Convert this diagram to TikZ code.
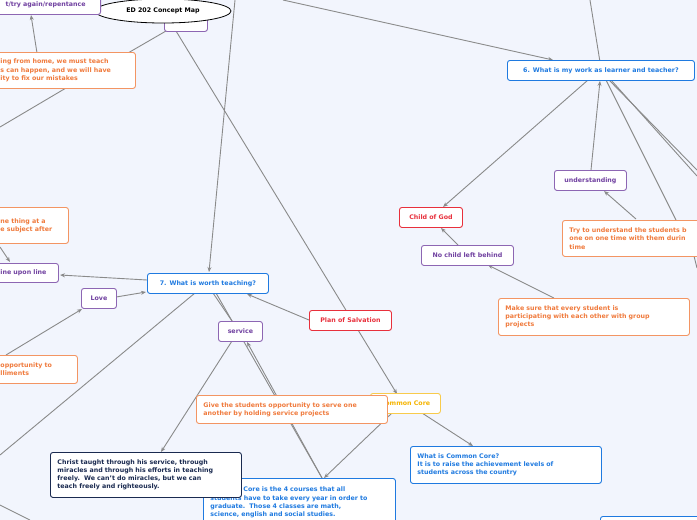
\documentclass[tikz,border=0pt]{standalone}
\usepackage{fontspec}
\setmainfont{DejaVu Sans}
\usetikzlibrary{shapes.geometric,arrows.meta}
\definecolor{bg}{HTML}{F2F5FD}
\definecolor{cpur}{HTML}{7040A0}
\definecolor{cblu}{HTML}{1F7AE0}
\definecolor{cred}{HTML}{E8303C}
\definecolor{cora}{HTML}{F07A3C}
\definecolor{cyel}{HTML}{F5B400}
\definecolor{cnav}{HTML}{1A2A50}
\definecolor{cline}{HTML}{8A8A8A}
\tikzset{
 box/.style={draw,fill=white,rounded corners=2.5pt,line width=0.9pt,inner xsep=7pt,inner ysep=2pt,font=\fontsize{6.3}{8.2}\selectfont\bfseries,align=left,anchor=north west},
 pur/.style={box,draw=cpur!80,text=cpur},
 blu/.style={box,draw=cblu,text=cblu},
 red/.style={box,draw=cred,text=cred},
 ora/.style={box,draw=cora!80,text=cora},
 yel/.style={box,draw=cyel!70,text=cyel},
 nav/.style={box,draw=cnav,text=cnav},
 ln/.style={draw=cline,line width=0.9pt},
 ar/.style={ln,-{Stealth[length=5pt,width=4pt]}}
}
\begin{document}
\begin{tikzpicture}[x=1pt,y=-1pt]
\fill[bg] (0,0) rectangle (697,520);
\useasboundingbox (0,0) rectangle (697,520);
\clip (0,0) rectangle (697,520);
% coordinates for free ends
\coordinate (t1) at (283,0); \coordinate (t2) at (590,0); \coordinate (t3) at (235,0);
\coordinate (l1) at (0,127); \coordinate (l2) at (0,455); \coordinate (l3) at (0,505); \coordinate (l4) at (30,520);
\coordinate (r1) at (697,170); \coordinate (r2) at (697,176); \coordinate (r3) at (697,268);
% edges behind
\draw[ar] (t1) -- (553,60);
\draw[ln] (t2) -- (600,62);
\draw[ar] (t3) -- (209,272);
\draw[ar] (176,31) -- (397,394);
\draw[ln] (166,31) -- (128,53);
\draw[ar] (37,53) -- (31,15);
\draw[ln] (66,88) -- (l1);
\draw[ar] (0,247) -- (10,262);
\draw[ar] (147,280) -- (60,275);
\draw[ar] (116,297) -- (146,292);
\draw[ar] (6,355) -- (82,309);
\draw[ln] (195,293) -- (l2);
\draw[ln] (l3) -- (l4);
\draw[ln] (213,293) -- (232,321);
\draw[ln] (216,293) -- (322,478);
\draw[ar] (322,478) -- (247,342);
\draw[ar] (232,341) -- (161,452);
\draw[ar] (309,320) -- (247,294);
\draw[ar] (392,413) -- (324,478);
\draw[ar] (422,413) -- (473,446);
\draw[ar] (588,80) -- (443,207);
\draw[ar] (591,170) -- (600,81);
\draw[ar] (636,219) -- (604,191);
\draw[ln] (606,80) -- (676,220);
\draw[ln] (609,80) -- (r1);
\draw[ln] (611,80) -- (r2);
\draw[ln] (694,256) -- (r3);
\draw[ar] (458,245) -- (441,228);
\draw[ar] (554,298) -- (488,265);
% nodes
\node[pur,minimum width=43,minimum height=21] (hid) at (164,10) {};
\node[draw,fill=white,ellipse,line width=0.8pt,minimum width=136,minimum height=24,font=\fontsize{6.3}{7}\selectfont\bfseries] (root) at (163,11) {ED 202 Concept Map};
\node[pur,minimum width=110,minimum height=19,anchor=north east,align=right] (rep) at (101,-5) {t/try again/repentance};
\node[ora,minimum height=36,text width=143,inner xsep=1pt] (o1) at (-10,52) {\hspace*{9pt}ing from home, we must teach\\ \hspace*{9pt}s can happen, and we will have\\ \hspace*{9pt}ity to fix our mistakes};
\node[ora,minimum height=36,text width=76,inner xsep=1pt] (o2) at (-10,207) {\hspace*{9pt}ne thing at a\\ \hspace*{9pt}e subject after};
\node[pur,minimum height=19,inner xsep=1pt,text width=66] (line) at (-10,263) {\hspace*{9pt}ine upon line};
\node[blu,minimum height=20,minimum width=121,align=center] (q7) at (147,273) {7. What is worth teaching?};
\node[pur,minimum height=20,minimum width=35,align=center] (love) at (81,288) {Love};
\node[ora,minimum height=28,text width=85,inner xsep=1pt] (o3) at (-10,355) {\hspace*{9pt}opportunity to\\ \hspace*{9pt}lliments};
\node[pur,minimum height=20,minimum width=44,align=center] (serv) at (218,321) {service};
\node[red,minimum height=20,minimum width=82,align=center] (plan) at (309,310) {Plan of Salvation};
\node[yel,minimum height=20,minimum width=70] (cc) at (370,393) {Common Core};
\node[ora,minimum height=28,text width=177] (give) at (196,395) {Give the students opportunity to serve one\\another by holding service projects};
\node[blu,text width=178,minimum height=48] (ccd) at (203,478) {Common Core is the 4 courses that all\\students have to take every year in order to\\graduate.\ \ Those 4 classes are math,\\science, english and social studies.};
\node[nav,text width=177,minimum height=45] (christ) at (50,452) {Christ taught through his service, through\\miracles and through his efforts in teaching\\freely.\ \ We can't do miracles, but we can\\teach freely and righteously.};
\node[blu,text width=177,minimum height=37] (wcc) at (410,446) {What is Common Core?\\It is to raise the achievement levels of\\students across the country};
\node[blu,minimum width=110,minimum height=20] (br) at (600,516) {};
\node[blu,minimum width=187,minimum height=20,align=center] (q6) at (507,60) {6. What is my work as learner and teacher?};
\node[pur,minimum height=20,minimum width=72,align=center] (und) at (554,170) {understanding};
\node[red,minimum height=20,minimum width=63,align=center] (cog) at (399,207) {Child of God};
\node[pur,minimum height=20,minimum width=92,align=center] (ncl) at (421,245) {No child left behind};
\node[ora,text width=150,minimum height=36] (try) at (562,220) {Try to understand the students b\\one on one time with them durin\\time};
\node[ora,text width=177,minimum height=37] (make) at (498,298) {Make sure that every student is\\participating with each other with group\\projects};
\end{tikzpicture}
\end{document}
